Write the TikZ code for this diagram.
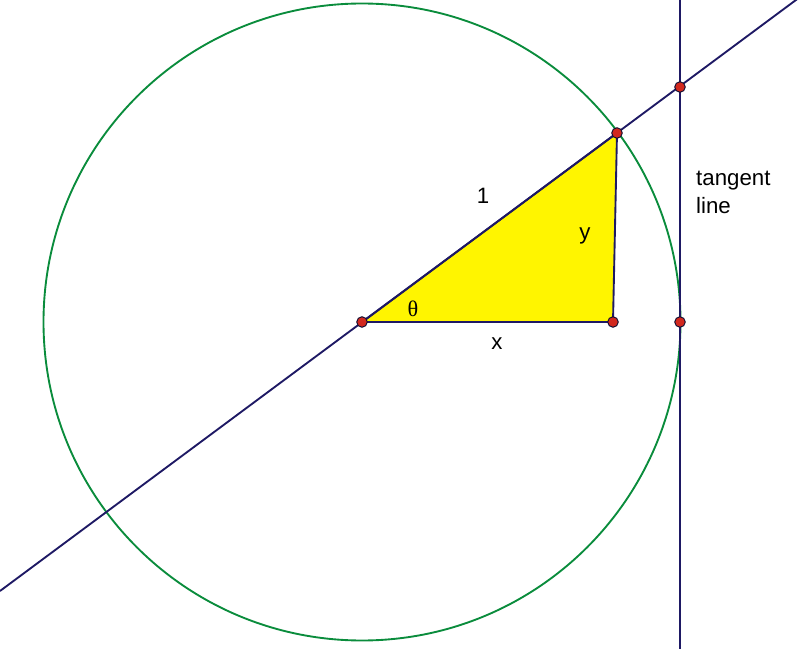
\documentclass[tikz,border=0pt]{standalone}
\usepackage{fontspec}
\setmainfont{Liberation Sans}
\newfontfamily\greekfont{Liberation Serif}
\usetikzlibrary{calc}
\definecolor{navy}{RGB}{30,25,100}
\definecolor{circgreen}{RGB}{10,140,60}
\definecolor{dotred}{RGB}{210,40,30}
\definecolor{triyellow}{RGB}{255,245,0}

\begin{document}
\begin{tikzpicture}[x=0.03cm,y=-0.03cm,
            line/.style={draw=navy,line width=1.6pt},
            circ/.style={draw=circgreen,line width=1.6pt},
            dot node/.style={circle,draw=navy!50!black,fill=dotred,inner sep=0pt,minimum size=9pt,line width=0.8pt},
            lbl node/.style={font=\fontsize{19}{24}\selectfont,inner sep=0pt}
            ]
            \useasboundingbox (0,0) rectangle (800,649);
            \clip (0,0) rectangle (800,649);

            % points
            \coordinate (o) at (362,322);
            \coordinate (p) at (617,133);
            \coordinate (f) at (613,322);
            \coordinate (t) at (680,322);
            \coordinate (q) at (680,87);
            \coordinate (l1) at (0,591);
            \coordinate (l2) at (800,-3);
            \coordinate (v1) at (680,0);
            \coordinate (v2) at (680,649);

            \draw[circ] (o) circle (318.5);
            \filldraw[line,fill=triyellow] (o) -- (p) -- (f) -- cycle;
            \draw[line] (l1) -- (l2);
            \draw[line] (v1) -- (v2);

            \node[dot node] at (o) {};
            \node[dot node] at (p) {};
            \node[dot node] at (f) {};
            \node[dot node] at (t) {};
            \node[dot node] at (q) {};

            \node[lbl node](one) at (483,196) {1};
            \node[lbl node](ylab) at (585,236) {y};
            \node[lbl node,font=\greekfont\fontsize{19}{24}\selectfont](theta) at (413,309) {θ};
            \node[lbl node](xlab) at (497,344) {x};
            \node[lbl node,align=left,anchor=north west](tan) at (696,171) {tangent\\line};
        \end{tikzpicture}
\end{document}
